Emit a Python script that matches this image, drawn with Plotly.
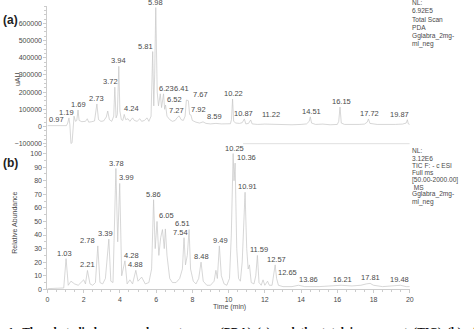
import plotly.graph_objects as go

# ---------------- (a) PDA total scan ----------------
# labelled peaks: retention time (min) and apex height (uAU)
peaks_a_rt = [0.97, 1.19, 1.69, 2.73, 3.72, 3.94, 4.24, 5.81, 5.98, 6.23, 6.41, 6.52,
              7.27, 7.67, 7.92, 8.59, 10.22, 10.87, 11.22, 14.51, 16.15, 17.72, 19.87]
peaks_a_h = [6000, 50000, 96000, 131000, 229000, 350000, 70000, 436000, 692000, 190000,
             190000, 125000, 62000, 154000, 67000, 27000, 160000, 44000, 38000, 56000,
             113000, 44000, 39000]
# unlabelled trace points between the peaks
base_a_t = [0.0, 0.5, 0.9, 1.05, 1.12, 1.24, 1.30, 1.36, 1.42, 1.47, 1.55, 1.62, 1.75, 1.9,
            2.1, 2.2, 2.28, 2.45, 2.6, 2.82, 2.95, 3.1, 3.25, 3.33, 3.42, 3.55, 3.66, 3.79,
            3.86, 4.0, 4.08, 4.16, 4.32, 4.45, 4.55, 4.7, 4.8, 4.95, 5.1, 5.2, 5.35, 5.5,
            5.6, 5.72, 5.87, 5.92, 6.06, 6.13, 6.3, 6.47, 6.6, 6.75, 6.9, 7.05, 7.15, 7.38,
            7.5, 7.6, 7.78, 7.85, 8.0, 8.2, 8.4, 8.75, 9.0, 9.3, 9.6, 9.9, 10.1, 10.16,
            10.28, 10.4, 10.6, 10.75, 10.95, 11.1, 11.3, 11.6, 12.0, 12.5, 13.0, 13.5, 14.0,
            14.3, 14.45, 14.58, 14.8, 15.2, 15.6, 16.0, 16.08, 16.22, 16.4, 16.8, 17.2, 17.5,
            17.65, 17.8, 18.2, 18.7, 19.2, 19.6, 19.8, 19.92, 20.0]
base_a_v = [5000, 5000, 4000, 5000, 20000, 10000, -100000, -95000, -20000, 60000, 30000,
            35000, 35000, 28000, 30000, 45000, 25000, 28000, 32000, 40000, 30000, 32000,
            55000, 90000, 40000, 30000, 60000, 50000, 70000, 90000, 40000, 35000, 40000,
            45000, 30000, 50000, 35000, 30000, 45000, 30000, 35000, 50000, 30000, 60000,
            120000, 300000, 200000, 120000, 110000, 100000, 60000, 40000, 30000, 35000,
            50000, 40000, 35000, 60000, 150000, 70000, 35000, 25000, 20000, 18000, 15000,
            18000, 15000, 14000, 16000, 40000, 30000, 20000, 18000, 22000, 15000, 18000,
            15000, 12000, 14000, 12000, 13000, 10000, 12000, 15000, 30000, 20000, 12000,
            14000, 10000, 12000, 30000, 20000, 12000, 10000, 12000, 14000, 25000, 18000,
            12000, 10000, 12000, 14000, 20000, 15000, 12000]

# ---------------- (b) TIC, negative ESI ----------------
peaks_b_rt = [1.03, 2.21, 2.78, 3.39, 3.78, 3.99, 4.28, 4.88, 5.86, 6.05, 6.51, 7.54,
              8.48, 9.49, 10.25, 10.36, 10.91, 11.59, 12.57, 12.65, 13.86, 16.21, 17.81, 19.48]
peaks_b_h = [22.6, 13.9, 32, 37, 89, 78, 21, 14, 66, 50, 44.5, 38, 20, 32, 100, 93,
             71.5, 25, 18, 8, 3, 3, 4.4, 3]
base_b_t = [0.0, 0.5, 0.9, 1.15, 1.3, 1.5, 1.7, 1.85, 2.0, 2.1, 2.35, 2.5, 2.65, 2.9,
            3.05, 3.2, 3.5, 3.62, 3.88, 4.1, 4.4, 4.55, 4.7, 5.0, 5.2, 5.4, 5.6, 5.75,
            5.95, 6.15, 6.25, 6.35, 6.45, 6.6, 6.75, 6.9, 7.1, 7.3, 7.45, 7.62, 7.72, 7.82,
            7.9, 8.05, 8.2, 8.35, 8.6, 8.8, 9.0, 9.2, 9.3, 9.38, 9.6, 9.75, 9.9, 10.05,
            10.15, 10.3, 10.45, 10.55, 10.65, 10.75, 11.0, 11.08, 11.15, 11.25, 11.4, 11.5,
            11.68, 11.8, 11.9, 12.0, 12.15, 12.25, 12.4, 12.75, 13.0, 13.5, 14.2, 15.0,
            15.5, 16.8, 17.3, 17.6, 18.0, 18.5, 19.0, 19.8, 20.0]
base_b_v = [0.5, 0.5, 1, 3, 6, 4, 3, 5, 7, 4, 4, 3, 5, 5, 4, 8, 6, 5, 35, 10, 4, 7, 4, 6,
            9, 4, 5, 15, 30, 25, 38, 44, 30, 25, 8, 5, 5, 8, 15, 18, 25, 44, 15, 6, 4, 8,
            6, 3, 3, 6, 14, 8, 10, 4, 3, 8, 40, 80, 30, 8, 6, 20, 30, 15, 18, 5, 4, 10, 5,
            3, 7, 3, 6, 3, 3, 3, 2, 2, 2, 2, 2.5, 2.5, 3, 4, 3, 2, 2.5, 2, 2]

x_ticks = list(range(0, 21, 2))
a_ticks = [-100000, 0, 100000, 200000, 300000, 400000, 500000, 600000]
b_ticks = list(range(0, 101, 10))

info_a = ["NL:", "6.92E5", "Total Scan", "PDA", "Gglabra_2mg-", "ml_neg"]
info_b = ["NL:", "3.12E6", "TIC F: - c ESI", "Full ms", "[50.00-2000.00]", "\u00a0MS",
          "Gglabra_2mg-", "ml_neg"]
caption = ("1.  The  photodiode  array  chromatogram  (PDA)  (a)  and  the  total  ion  "
           "current  (TIC)  (b)  of")

# label offsets (px) so that crowded peak labels do not collide
dx_a = [-8, -2, 0, 0, -4, 0, 7, -7, 0, 6, 18, 9, -3, 14, 8, 11, 1, -1, 20, 1, 1, 1, -8]
dx_b = [-2, 0, -10, -3, 1, 7, 7, 0, 0, 9, 17, -4, 0, 1, 1, 11, 2, 2, 1, 11, 10, 1, 0, -1]


def merge(pt, pv, bt, bv):
    pts = sorted(list(zip(pt, pv)) + list(zip(bt, bv)))
    return [p[0] for p in pts], [p[1] for p in pts]


ta, va = merge(peaks_a_rt, peaks_a_h, base_a_t, base_a_v)
tb, vb = merge(peaks_b_rt, peaks_b_h, base_b_t, base_b_v)

W, H = 474, 329
FONT = "Liberation Sans, Arial, sans-serif"
TRACE = "#c6c6c6"
AXIS = "#cccccc"
TXT = "#4a4a4a"

fig = go.Figure()
fig.add_trace(go.Scatter(x=ta, y=va, mode="lines", xaxis="x2", yaxis="y2",
                         line=dict(color=TRACE, width=0.7), hoverinfo="skip"))
fig.add_trace(go.Scatter(x=tb, y=vb, mode="lines", xaxis="x", yaxis="y",
                         line=dict(color=TRACE, width=0.7), hoverinfo="skip"))

x0, x1 = 46 / W, 413 / W
ya_dom = [(H - 145) / H, (H - 6.25) / H]
yb_dom = [(H - 292) / H, (H - 145) / H]

tickfont = dict(family=FONT, size=7, color=TXT)
fig.update_layout(
    width=W, height=H, margin=dict(l=0, r=0, t=0, b=0),
    paper_bgcolor="white", plot_bgcolor="white", showlegend=False,
    xaxis=dict(domain=[x0, x1], range=[0, 20], tickvals=x_ticks, ticks="outside",
               ticklen=3, tickcolor=AXIS, showline=True, linecolor=AXIS, linewidth=1,
               showgrid=False, zeroline=False, tickfont=tickfont, anchor="y",
               minor=dict(dtick=0.5, ticks="outside", ticklen=2, tickcolor=AXIS)),
    xaxis2=dict(domain=[x0, x1], range=[0, 20], matches="x", visible=False,
                anchor="y2"),
    yaxis=dict(domain=yb_dom, range=[0, 107.3], tickvals=b_ticks, ticks="outside",
               ticklen=3, tickcolor=AXIS, showline=True, linecolor=AXIS, linewidth=1,
               showgrid=False, zeroline=False, tickfont=tickfont, anchor="x",
               minor=dict(dtick=5, ticks="outside", ticklen=2, tickcolor=AXIS)),
    yaxis2=dict(domain=ya_dom, range=[-100000, 700000], tickvals=a_ticks,
                tickformat="d", ticks="outside", ticklen=3, tickcolor=AXIS,
                showline=True, linecolor=AXIS, linewidth=1, showgrid=False,
                zeroline=False, tickfont=tickfont, anchor="x2",
                minor=dict(dtick=25000, ticks="outside", ticklen=2, tickcolor=AXIS)),
)

ann = []
lab_font = dict(family=FONT, size=7.5, color=TXT)
for rt, h, dx in zip(peaks_a_rt, peaks_a_h, dx_a):
    ann.append(dict(x=rt, y=h, xref="x2", yref="y2", text=f"{rt:.2f}", showarrow=False,
                    xanchor="center", yanchor="bottom", xshift=dx, font=lab_font,
                    borderpad=0))
for rt, h, dx in zip(peaks_b_rt, peaks_b_h, dx_b):
    ann.append(dict(x=rt, y=h, xref="x", yref="y", text=f"{rt:.2f}", showarrow=False,
                    xanchor="center", yanchor="bottom", xshift=dx, font=lab_font,
                    borderpad=0))

side_font = dict(family=FONT, size=6.6, color=TXT)
for i, line in enumerate(info_a):
    ann.append(dict(x=414 / W, y=1 - (2.5 + 8.4 * i) / H, xref="paper", yref="paper",
                    text=line, showarrow=False, xanchor="left", yanchor="middle",
                    font=side_font, borderpad=0))
for i, line in enumerate(info_b):
    ann.append(dict(x=414 / W, y=1 - (152.3 + 7.3 * i) / H, xref="paper", yref="paper",
                    text=line, showarrow=False, xanchor="left", yanchor="middle",
                    font=side_font, borderpad=0))

# panel letters and axis titles
for letter, yc in (("(a)", 20), ("(b)", 165)):
    ann.append(dict(x=-1 / W, y=1 - yc / H, xref="paper", yref="paper",
                    text=f"<b>{letter}</b>", showarrow=False, xanchor="left",
                    yanchor="middle", font=dict(family=FONT, size=12, color="#222")))
ann.append(dict(x=15 / W, y=1 - 80 / H, xref="paper", yref="paper", text="uAU",
                textangle=-90, showarrow=False, xanchor="center", yanchor="middle",
                font=dict(family=FONT, size=7, color=TXT)))
ann.append(dict(x=13 / W, y=1 - 225 / H, xref="paper", yref="paper",
                text="Relative Abundance", textangle=-90, showarrow=False,
                xanchor="center", yanchor="middle",
                font=dict(family=FONT, size=7, color=TXT)))
ann.append(dict(x=230 / W, y=1 - 310 / H, xref="paper", yref="paper", text="Time (min)",
                showarrow=False, xanchor="center", yanchor="middle",
                font=dict(family=FONT, size=7, color=TXT)))
ann.append(dict(x=4 / W, y=1 - 326.5 / H, xref="paper", yref="paper",
                text=f"<b>{caption}</b>", showarrow=False, xanchor="left", yanchor="top",
                font=dict(family="Liberation Serif, serif", size=11.5, color="#111")))
fig.update_layout(annotations=ann)

# top frame of the lower panel
fig.add_shape(type="line", xref="x", yref="paper", x0=10.8, x1=20,
              y0=yb_dom[1], y1=yb_dom[1], line=dict(color="#e0e0e0", width=1))

fig.write_html("out.html")
